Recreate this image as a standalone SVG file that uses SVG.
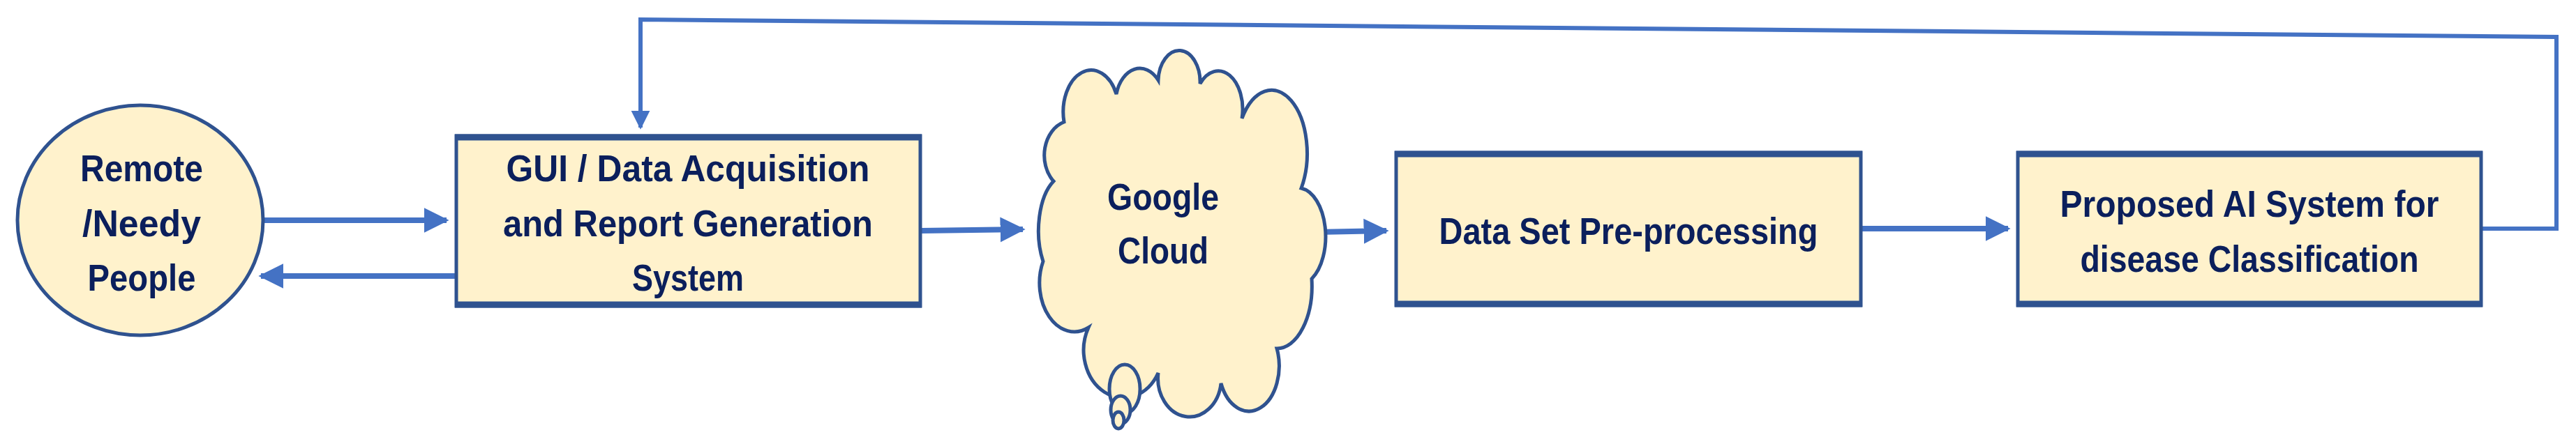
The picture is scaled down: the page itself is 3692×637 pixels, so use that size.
<svg xmlns="http://www.w3.org/2000/svg" width="3692" height="637" viewBox="0 0 3692 637">
<style>
.node{fill:#FFF2CC;stroke:#2F528F;stroke-width:5}
.edge{fill:none;stroke:#4472C4;stroke-width:8}
.t{font-family:"Liberation Sans",Arial,sans-serif;font-weight:bold;font-size:54px;fill:#0B1F5C;text-anchor:middle}
.bar{stroke:#2F528F;stroke-width:9}
</style>
<defs>
<marker id="ah" viewBox="0 0 10 10" refX="9" refY="5" markerWidth="4.5" markerHeight="5" markerUnits="strokeWidth" orient="auto"><path d="M0,0L10,5L0,10Z" fill="#4472C4"/></marker>
</defs>
<g id="connectors">
<path class="edge" d="M378,316H640" marker-end="url(#ah)"/>
<path class="edge" d="M652,396H374" marker-end="url(#ah)"/>
<path class="edge" d="M1321,331L1466,329" marker-end="url(#ah)"/>
<path class="edge" d="M1887,333L1987,331" marker-end="url(#ah)"/>
<path class="edge" d="M2669,328H2878" marker-end="url(#ah)"/>
<path class="edge" style="stroke-width:6" d="M3558,328H3664V53L918,28V183" marker-end="url(#ah)"/>
</g>
<g id="remote">
<ellipse class="node" cx="201" cy="316" rx="176" ry="165"/>
<text class="t" x="203" y="260" textLength="176" lengthAdjust="spacingAndGlyphs">Remote</text>
<text class="t" x="203" y="339" textLength="170" lengthAdjust="spacingAndGlyphs">/Needy</text>
<text class="t" x="203" y="417" textLength="155" lengthAdjust="spacingAndGlyphs">People</text>
</g>
<g id="gui">
<rect class="node" x="654" y="195" width="665" height="244"/>
<path class="bar" d="M652,197H1321M652,437H1321"/>
<text class="t" x="986" y="260" textLength="521" lengthAdjust="spacingAndGlyphs">GUI / Data Acquisition</text>
<text class="t" x="986" y="339" textLength="530" lengthAdjust="spacingAndGlyphs">and Report Generation</text>
<text class="t" x="986" y="417" textLength="160" lengthAdjust="spacingAndGlyphs">System</text>
</g>
<g id="cloud">
<path class="node" d="M1525,175 A40,60 0 0 1 1600,135 A35,50 0 0 1 1660,115 A30,45 0 0 1 1720,120 A35,55 0 0 1 1780,170 A45,80 0 0 1 1865,270 A40,70 0 0 1 1880,400 A50,90 0 0 1 1830,500 A40,60 0 0 1 1750,550 A45,55 0 0 1 1660,535 A50,60 0 0 1 1560,470 A50,70 0 0 1 1495,375 A40,80 0 0 1 1510,260 A40,50 0 0 1 1525,175 Z"/>
<ellipse class="node" cx="1612" cy="558" rx="22" ry="35"/>
<ellipse class="node" cx="1606" cy="588" rx="14" ry="20"/>
<ellipse class="node" cx="1603" cy="603" rx="8" ry="12"/>
<text class="t" x="1667" y="301" textLength="160" lengthAdjust="spacingAndGlyphs">Google</text>
<text class="t" x="1667" y="378" textLength="130" lengthAdjust="spacingAndGlyphs">Cloud</text>
</g>
<g id="preprocess">
<rect class="node" x="2001" y="219" width="666" height="219"/>
<path class="bar" d="M1999,221H2669M1999,436H2669"/>
<text class="t" x="2334" y="350" textLength="543" lengthAdjust="spacingAndGlyphs">Data Set Pre-processing</text>
</g>
<g id="ai">
<rect class="node" x="2892" y="219" width="664" height="219"/>
<path class="bar" d="M2890,221H3558M2890,436H3558"/>
<text class="t" x="3224" y="311" textLength="543" lengthAdjust="spacingAndGlyphs">Proposed AI System for</text>
<text class="t" x="3224" y="390" textLength="485" lengthAdjust="spacingAndGlyphs">disease Classification</text>
</g>
</svg>
